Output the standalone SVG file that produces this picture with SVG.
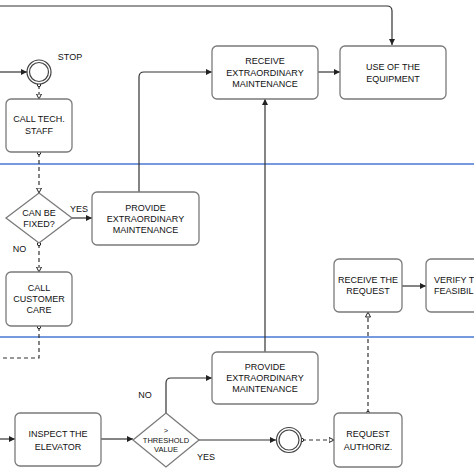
<svg xmlns="http://www.w3.org/2000/svg" width="474" height="474" viewBox="0 0 474 474">
<style>
.box{fill:#fff;stroke:#7a7a7a;stroke-width:1.3}
.c{fill:none;stroke:#333;stroke-width:1.2}
.d{fill:none;stroke:#333;stroke-width:1.2;stroke-dasharray:4 3}
.lane{stroke:#4a78d4;stroke-width:1.4}
text{font-family:"Liberation Sans",Arial,sans-serif;font-size:9px;fill:#111;text-anchor:middle}
.small{font-size:7.5px}
.ev{fill:#fff;stroke:#444;stroke-width:1.2}
</style>
<defs>
<marker id="arr" markerWidth="8" markerHeight="8" refX="6" refY="3" orient="auto" markerUnits="userSpaceOnUse">
<path d="M0,0 L6,3 L0,6 Z" fill="#222"/>
</marker>
<marker id="open" markerWidth="8" markerHeight="8" refX="5.5" refY="3" orient="auto" markerUnits="userSpaceOnUse">
<path d="M0.5,0.5 L5.5,3 L0.5,5.5 Z" fill="#fff" stroke="#222" stroke-width="1"/>
</marker>
<marker id="dot" markerWidth="6" markerHeight="6" refX="3" refY="3" orient="auto" markerUnits="userSpaceOnUse">
<circle cx="3" cy="3" r="1.7" fill="#fff" stroke="#222" stroke-width="1"/>
</marker>
</defs>
<rect width="474" height="474" fill="#fff"/>
<g id="lanes">
<line class="lane" x1="0" y1="164" x2="474" y2="164"/>
<line class="lane" x1="0" y1="337" x2="474" y2="337"/>
</g>
<g id="connectors">
<path class="c" d="M0,6 H387 Q392,6 392,11 V45" marker-end="url(#arr)"/>
<path class="c" d="M0,72 H27" marker-end="url(#arr)"/>
<path class="d" d="M39,85 V99" marker-start="url(#dot)" marker-end="url(#open)"/>
<path class="d" d="M39,153 V193" marker-start="url(#dot)" marker-end="url(#open)"/>
<path class="c" d="M72,218 H92" marker-end="url(#arr)"/>
<path class="d" d="M39,244 V272" marker-start="url(#dot)" marker-end="url(#open)"/>
<path class="d" d="M39,327 V358 H0" marker-start="url(#dot)"/>
<path class="c" d="M139,192 V77 Q139,72 144,72 H212" marker-end="url(#arr)"/>
<path class="c" d="M318,72 H340" marker-end="url(#arr)"/>
<path class="c" d="M265,352 V99" marker-end="url(#arr)"/>
<path class="c" d="M0,439 H15" marker-end="url(#arr)"/>
<path class="c" d="M101,439 H133" marker-end="url(#arr)"/>
<path class="c" d="M166,413 V383 Q166,378 171,378 H212" marker-end="url(#arr)"/>
<path class="c" d="M199,440 H276" marker-end="url(#arr)"/>
<path class="d" d="M302,440 H334" marker-start="url(#dot)" marker-end="url(#open)"/>
<path class="d" d="M368,413 V312" marker-start="url(#dot)" marker-end="url(#open)"/>
<path class="c" d="M402,286 H426" marker-end="url(#arr)"/>
</g>
<g id="stop">
<circle class="ev" cx="39" cy="72" r="12"/>
<circle class="ev" cx="39" cy="72" r="9.5"/>
<text x="70" y="60">STOP</text>
</g>
<g id="call-tech">
<rect class="box" x="6" y="99" width="66" height="53" rx="5"/>
<text x="39" y="122">CALL TECH.</text>
<text x="39" y="134">STAFF</text>
</g>
<g id="receive-extra">
<rect class="box" x="212" y="46" width="106" height="53" rx="5"/>
<text x="265" y="64">RECEIVE</text>
<text x="265" y="76">EXTRAORDINARY</text>
<text x="265" y="87">MAINTENANCE</text>
</g>
<g id="use-equipment">
<rect class="box" x="340" y="46" width="106" height="53" rx="5"/>
<text x="393" y="69.5">USE OF THE</text>
<text x="393" y="81.5">EQUIPMENT</text>
</g>
<g id="can-be-fixed">
<path class="box" d="M39,193 L72,218 L39,243 L6,218 Z"/>
<text x="39" y="216">CAN BE</text>
<text x="39" y="227">FIXED?</text>
<text x="79" y="212">YES</text>
<text x="19.5" y="252">NO</text>
</g>
<g id="provide-mid">
<rect class="box" x="92" y="192" width="107" height="53" rx="5"/>
<text x="145.5" y="211">PROVIDE</text>
<text x="145.5" y="222">EXTRAORDINARY</text>
<text x="145.5" y="233">MAINTENANCE</text>
</g>
<g id="call-customer">
<rect class="box" x="6" y="272" width="66" height="54" rx="5"/>
<text x="39" y="291">CALL</text>
<text x="39" y="302">CUSTOMER</text>
<text x="39" y="313">CARE</text>
</g>
<g id="receive-request">
<rect class="box" x="334" y="259" width="68" height="53" rx="5"/>
<text x="368" y="283">RECEIVE THE</text>
<text x="368" y="294">REQUEST</text>
</g>
<g id="verify">
<rect class="box" x="426" y="259" width="70" height="53" rx="5"/>
<text x="434" y="283" style="text-anchor:start">VERIFY T</text>
<text x="434" y="294" style="text-anchor:start">FEASIBIL</text>
</g>
<g id="provide-bottom">
<rect class="box" x="212" y="352" width="106" height="52" rx="5"/>
<text x="265" y="370">PROVIDE</text>
<text x="265" y="381">EXTRAORDINARY</text>
<text x="265" y="392">MAINTENANCE</text>
</g>
<g id="inspect">
<rect class="box" x="15" y="413" width="86" height="53" rx="5"/>
<text x="58" y="437">INSPECT THE</text>
<text x="58" y="450">ELEVATOR</text>
</g>
<g id="threshold">
<path class="box" d="M166,413 L199,440 L166,467 L133,440 Z"/>
<text class="small" x="166" y="432.5">&gt;</text>
<text class="small" x="166" y="442.5">THRESHOLD</text>
<text class="small" x="166" y="451.5">VALUE</text>
<text x="145" y="398">NO</text>
<text x="206" y="460">YES</text>
</g>
<g id="end-event">
<circle class="ev" cx="289" cy="440" r="12.5"/>
<circle class="ev" cx="289" cy="440" r="10"/>
</g>
<g id="request-authoriz">
<rect class="box" x="334" y="413" width="68" height="54" rx="5"/>
<text x="368" y="437">REQUEST</text>
<text x="368" y="450">AUTHORIZ.</text>
</g>
</svg>
